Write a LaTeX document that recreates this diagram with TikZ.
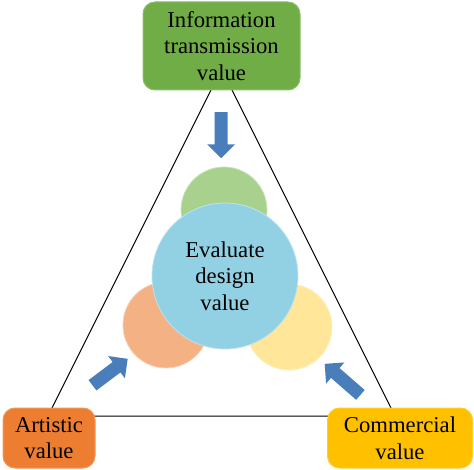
\documentclass[tikz,border=0pt]{standalone}
\usepackage{fontspec}
\setmainfont{Liberation Serif}
\usetikzlibrary{positioning,shapes,arrows}
\definecolor{boxgreen}{HTML}{70AD47}
\definecolor{boxorange}{HTML}{ED7D31}
\definecolor{boxyellow}{HTML}{FFC000}
\definecolor{circgreen}{HTML}{A9D18E}
\definecolor{circorange}{HTML}{F4B183}
\definecolor{circyellow}{HTML}{FFE699}
\definecolor{circblue}{HTML}{92D1E4}
\definecolor{arrowblue}{HTML}{4A7EBB}
\begin{document}
\begin{tikzpicture}[x=0.75pt, y=-0.75pt, line width=0.75pt,
    valuebox/.style={rectangle, rounded corners=9pt, align=center, inner sep=0pt,
        font=\fontsize{17}{20}\selectfont, text=black},
    part/.style={circle, inner sep=0pt, minimum size=64.5pt, line width=0.6pt},
    push/.style={single arrow, fill=arrowblue, inner sep=4.5pt, minimum width=20pt,
        single arrow head extend=5.6pt}]
    \useasboundingbox (0,0) rectangle (474,470);
    \coordinate (apex) at (221.5,69);
    \coordinate (bl) at (48,416);
    \coordinate (br) at (395,416);
    \draw (apex) -- (bl) -- (br) -- cycle;
    \node[valuebox, fill=boxgreen, draw=boxgreen!80!white, minimum width=117.75pt, minimum height=66pt] (info) at (221.5,46) {Information\\transmission\\value};
    \node[valuebox, fill=boxorange, draw=boxorange!80!white, minimum width=69pt, minimum height=45pt] (art) at (49,438) {Artistic\\value};
    \node[valuebox, fill=boxyellow, draw=boxyellow!80!white, minimum width=108.75pt, minimum height=45pt] (comm) at (400,438) {Commercial\\value};
    \node[part, fill=circgreen, draw=circgreen!60!white] (green) at (224,210) {};
    \node[part, fill=circorange, draw=circorange!60!white] (orange) at (166,325) {};
    \node[part, fill=circyellow, draw=circyellow!60!white] (yellow) at (289,327) {};
    \node[part, fill=circblue, draw=circblue!60!white, minimum size=109.5pt, align=center,
        font=\fontsize{17}{20}\selectfont, text=black] (eval) at (225,276) {Evaluate\\design\\value};
    \node[push, rotate=-90, minimum height=34.5pt] (a-info) at (221,132) {};
    \node[push, rotate=37, minimum height=33pt] (a-art) at (107.5,374) {};
    \node[push, rotate=139, minimum height=35.5pt] (a-comm) at (345,381.5) {};
\end{tikzpicture}
\end{document}
